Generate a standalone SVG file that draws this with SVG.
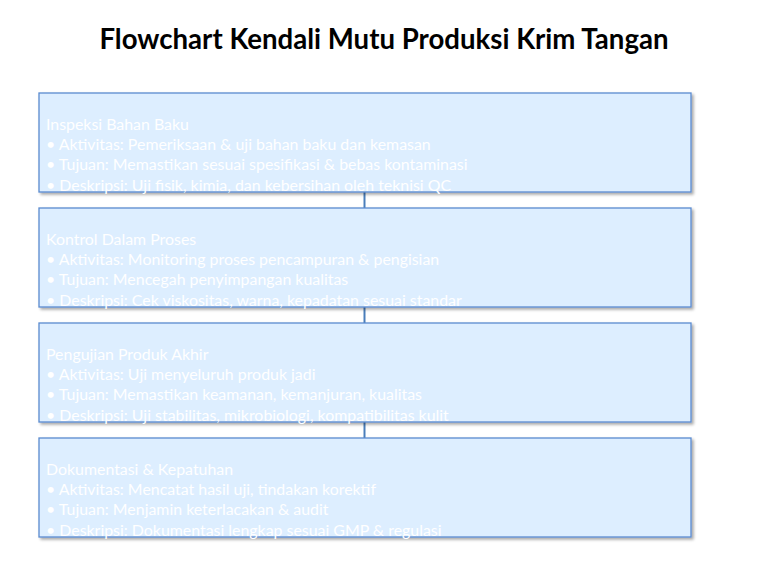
<svg xmlns="http://www.w3.org/2000/svg" width="768" height="576" viewBox="0 0 768 576">
<defs>
<filter id="sh" x="-5%" y="-10%" width="110%" height="130%">
<feGaussianBlur in="SourceAlpha" stdDeviation="1.5"/>
<feOffset dx="2" dy="2" result="b"/>
<feComponentTransfer><feFuncA type="linear" slope="0.35"/></feComponentTransfer>
<feMerge><feMergeNode/><feMergeNode in="SourceGraphic"/></feMerge>
</filter>
</defs>
<style>
.box{fill:#DDEEFF;stroke:#5B8BD0;stroke-width:1.3;filter:url(#sh)}
.t{font-family:Lato,"Open Sans","Liberation Sans",sans-serif;font-size:15.9px;fill:#FFFFFF}
.title{font-family:Lato,"Liberation Sans",sans-serif;font-size:27.6px;font-weight:bold;fill:#000}
.c{stroke:#4A7EBB;stroke-width:2;fill:none}
</style>
<rect width="768" height="576" fill="#FFFFFF"/>
<text class="title" x="384" y="49" text-anchor="middle">Flowchart Kendali Mutu Produksi Krim Tangan</text>
<g id="connectors">
<line class="c" x1="364.5" y1="192" x2="364.5" y2="208"/>
<line class="c" x1="364.5" y1="307" x2="364.5" y2="323"/>
<line class="c" x1="364.5" y1="422" x2="364.5" y2="438"/>
</g>
<g id="n1">
<rect class="box" x="39" y="93" width="652" height="99"/>
<text class="t" x="46" y="130">Inspeksi Bahan Baku</text>
<text class="t" x="46" y="150">• Aktivitas: Pemeriksaan &amp; uji bahan baku dan kemasan</text>
<text class="t" x="46" y="170">• Tujuan: Memastikan sesuai spesifikasi &amp; bebas kontaminasi</text>
<text class="t" x="46" y="191">• Deskripsi: Uji fisik, kimia, dan kebersihan oleh teknisi QC</text>
</g>
<g id="n2">
<rect class="box" x="39" y="208" width="652" height="99"/>
<text class="t" x="46" y="245">Kontrol Dalam Proses</text>
<text class="t" x="46" y="265">• Aktivitas: Monitoring proses pencampuran &amp; pengisian</text>
<text class="t" x="46" y="285">• Tujuan: Mencegah penyimpangan kualitas</text>
<text class="t" x="46" y="306">• Deskripsi: Cek viskositas, warna, kepadatan sesuai standar</text>
</g>
<g id="n3">
<rect class="box" x="39" y="323" width="652" height="99"/>
<text class="t" x="46" y="360">Pengujian Produk Akhir</text>
<text class="t" x="46" y="380">• Aktivitas: Uji menyeluruh produk jadi</text>
<text class="t" x="46" y="400">• Tujuan: Memastikan keamanan, kemanjuran, kualitas</text>
<text class="t" x="46" y="421">• Deskripsi: Uji stabilitas, mikrobiologi, kompatibilitas kulit</text>
</g>
<g id="n4">
<rect class="box" x="39" y="438" width="652" height="99"/>
<text class="t" x="46" y="475">Dokumentasi &amp; Kepatuhan</text>
<text class="t" x="46" y="495">• Aktivitas: Mencatat hasil uji, tindakan korektif</text>
<text class="t" x="46" y="515">• Tujuan: Menjamin keterlacakan &amp; audit</text>
<text class="t" x="46" y="536">• Deskripsi: Dokumentasi lengkap sesuai GMP &amp; regulasi</text>
</g>
</svg>
